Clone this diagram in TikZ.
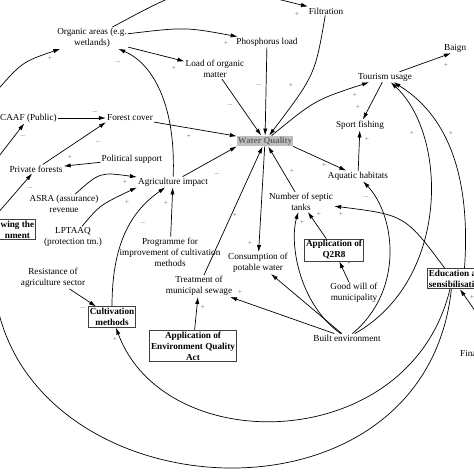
\documentclass[tikz,border=0pt]{standalone}
\usepackage{fontspec}
\setmainfont{Liberation Serif}
\usetikzlibrary{arrows.meta}

\begin{document}
\begin{tikzpicture}[x=1pt,y=-1pt,
  lbl/.style={align=center,inner sep=1pt,font=\fontsize{9.2}{11}\selectfont},
  boxlbl/.style={align=center,draw=black!75,line width=0.7pt,inner sep=1.5pt,font=\fontsize{9.2}{11}\selectfont\bfseries},
  pol/.style={text=black!55,inner sep=0pt,font=\fontsize{7.5}{7.5}\selectfont},
  arr/.style={-{Latex[length=7pt,width=4.2pt]},line width=0.7pt}]

\useasboundingbox (0,0) rectangle (474,474);

% Drawing variables
\node[lbl] (org) at (92,38) {Organic areas (e.g.\\wetlands)};
\node[lbl] (filt) at (326,11) {Filtration};
\node[lbl] (phos) at (267,42) {Phosphorus load};
\node[lbl] (lom) at (215,69) {Load of organic\\matter};
\node[lbl,anchor=west] (baign) at (443,48) {Baign};
\node[lbl] (tour) at (385,77) {Tourism usage};
\node[lbl] (sport) at (360,125) {Sport fishing};
\node[lbl,anchor=west] (caaf) at (-1,118) {CAAF (Public)};
\node[lbl] (forest) at (130,118) {Forest cover};
\node[lbl] (polit) at (132,159) {Political support};
\node[lbl] (privf) at (36,169) {Private forests};
\node[lbl] (agri) at (173,182) {Agriculture impact};
\node[lbl] (asra) at (64,204) {ASRA (assurance)\\revenue};
\node[lbl] (lpt) at (73,237) {LPTAAQ\\(protection tm.)};
\node[lbl] (progr) at (170,252) {Programme for\\improvement of cultivation\\methods};
\node[lbl] (resist) at (53,278) {Resistance of\\agriculture sector};
\node[lbl] (treat) at (199,286) {Treatment of\\municipal sewage};
\node[lbl] (cons) at (258,263) {Consumption of\\potable water};
\node[lbl] (septic) at (301,202) {Number of septic\\tanks};
\node[lbl] (aquat) at (358,176) {Aquatic habitats};
\node[lbl] (good) at (354,293) {Good will of\\municipality};
\node[lbl] (built) at (347,338) {Built environment};
\node[lbl,anchor=west] (fina) at (459,353) {Fina};

% Drawing water quality
\node[fill=black!25,text=black!60,inner xsep=1pt,inner ysep=1.2pt,font=\fontsize{8.8}{10}\selectfont\bfseries] (wq) at (265,141) {Water Quality};

% Drawing policy boxes
\node[boxlbl,anchor=east] (view) at (36,229.5) {wing the\\nment};
\node[boxlbl] (cultiv) at (112,317) {Cultivation\\methods};
\node[boxlbl] (eqa) at (193,346) {Application of\\Environment Quality\\Act};
\node[boxlbl] (q2r8) at (334,250) {Application of\\Q2R8};
\node[boxlbl,anchor=north west,align=left] (edu) at (427,268) {Education a\\sensibilisati};

% Outside ends
\coordinate (offA) at (-6,94);
\coordinate (offB) at (-4,160);
\coordinate (offE) at (-3,214);
\coordinate (offC) at (-3,305);
\coordinate (offD) at (490,332);

% Connecting upper part
\draw[arr] (offA) .. controls (22,62) .. (org);
\draw[arr] (org) .. controls (200,-20) .. (filt);
\draw[arr] (org) .. controls (185,27) .. (phos);
\draw[arr] (org) -- (lom);
\draw[arr] (agri) .. controls (176,100) and (150,62) .. (org);
\draw[arr] (caaf) -- (forest);
\draw[arr] (forest) -- (wq);
\draw[arr] (offB) -- (caaf);
\draw[arr] (privf) -- (forest.south west);
\draw[arr] (polit) -- (privf);
\draw[arr] (offE) -- (privf);
\draw[arr] (lom) -- (wq);
\draw[arr] (phos) -- (wq);
\draw[arr] (filt) .. controls (315,75) .. (wq);
\draw[arr] (wq) .. controls (315,100) .. (tour);
\draw[arr] (tour) -- (sport);
\draw[arr] (aquat) -- (sport);
\draw[arr] (tour) -- ([xshift=8pt]baign.south west);

% Connecting agriculture
\draw[arr] (asra) .. controls (100,172) .. (agri);
\draw[arr] (lpt) .. controls (100,205) .. (agri.south west);
\draw[arr] (cultiv) .. controls (112,245) and (130,212) .. (agri);
\draw[arr] (progr) -- (agri);
\draw[arr] (resist) -- (cultiv);
\draw[arr] (agri) -- (wq.south west);

% Connecting lower part
\draw[arr] (wq.south east) -- (aquat);
\draw[arr] (septic) -- (wq);
\draw[arr] (treat) -- (wq);
\draw[arr] (wq) -- (cons);
\draw[arr] (eqa) -- (treat);
\draw[arr] (q2r8) -- (septic);
\draw[arr] (good) -- (q2r8);
\draw[arr] (built) .. controls (300,305) and (289,245) .. (septic);
\draw[arr] (built) -- (treat);
\draw[arr] (built) -- (cons);
\draw[arr] (built) .. controls (405,290) and (395,215) .. (aquat);
\draw[arr] (built) .. controls (450,280) and (448,135) .. (tour);

% Connecting education
\draw[arr] ([xshift=12pt]edu.north) .. controls (470,190) and (455,120) .. (tour);
\draw[arr] (edu) .. controls (405,215) .. (septic);
\draw[arr] (edu) .. controls (410,455) and (165,460) .. (cultiv);
\draw[line width=0.7pt] (edu) .. controls (425,535) and (40,515) .. (offC);
\draw[arr] (offD) -- (edu);

% Drawing signs
\node[pol] (p1) at (50,58) {+};
\node[pol] (p2) at (297,14) {+};
\node[pol] (p3) at (226,43) {+};
\node[pol] (p4) at (174,68) {+};
\node[pol] (p5) at (118,62) {$-$};
\node[pol] (p6) at (95,112) {$-$};
\node[pol] (p7) at (189,136) {+};
\node[pol] (p8) at (23,136) {$-$};
\node[pol] (p9) at (98,142) {$-$};
\node[pol] (p10) at (70,157) {+};
\node[pol] (p11) at (30,188) {$-$};
\node[pol] (p12) at (125,182) {+};
\node[pol] (p13) at (127,202) {+};
\node[pol] (p14) at (143,223) {$-$};
\node[pol] (p15) at (166,203) {+};
\node[pol] (p16) at (83,308) {$-$};
\node[pol] (p17) at (217,174) {$-$};
\node[pol] (p18) at (230,105) {$-$};
\node[pol] (p19) at (259,85) {$-$};
\node[pol] (p20) at (291,85) {+};
\node[pol] (p21) at (355,95) {+};
\node[pol] (p22) at (358,107) {+};
\node[pol] (p23) at (367,139) {+};
\node[pol] (p24) at (324,165) {+};
\node[pol] (p25) at (292,171) {+};
\node[pol] (p26) at (235,215) {+};
\node[pol] (p27) at (250,243) {+};
\node[pol] (p28) at (203,307) {+};
\node[pol] (p29) at (319,214) {+};
\node[pol] (p30) at (349,263) {+};
\node[pol] (p31) at (302,222) {+};
\node[pol] (p32) at (240,292) {+};
\node[pol] (p33) at (275,277) {+};
\node[pol] (p34) at (366,197) {$-$};
\node[pol] (p35) at (412,133) {+};
\node[pol] (p36) at (451,133) {+};
\node[pol] (p37) at (341,214) {+};
\node[pol] (p38) at (115,339) {+};
\node[pol] (p39) at (472,297) {+};
\node[pol] (p40) at (446,65) {+};

\end{tikzpicture}
\end{document}
